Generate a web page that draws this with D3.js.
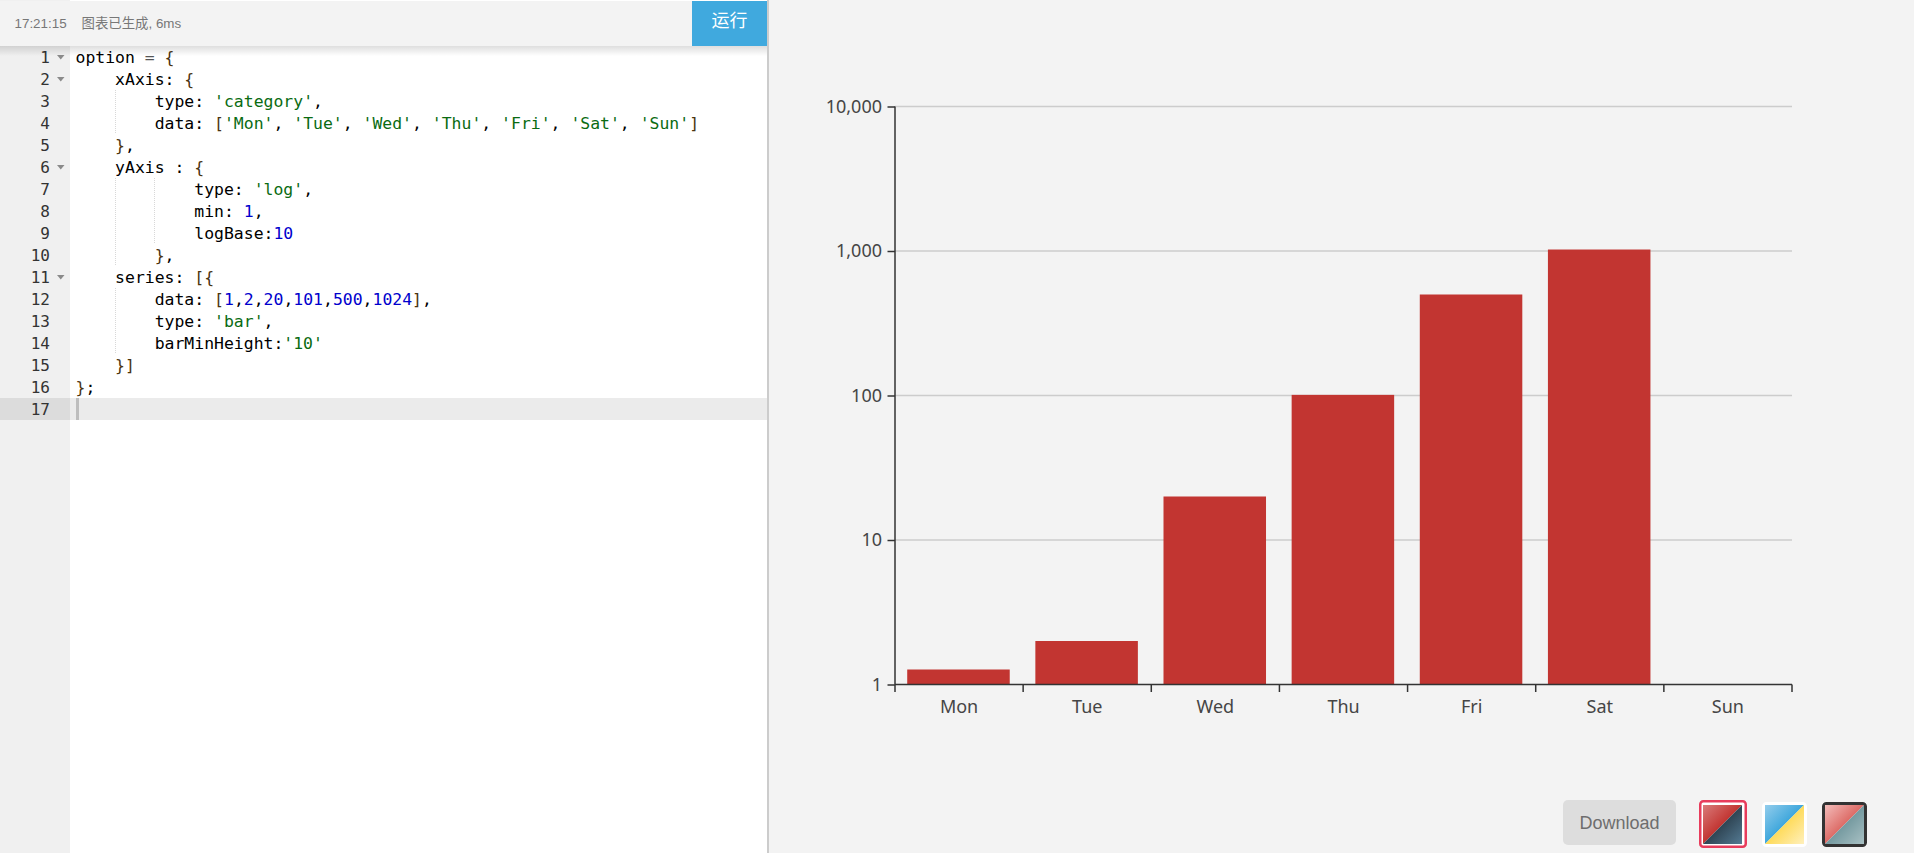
<!DOCTYPE html>
<html>
<head>
<meta charset="utf-8">
<script src="https://cdn.jsdelivr.net/npm/d3@7/dist/d3.min.js"></script>
<style>
html,body{margin:0;padding:0;background:#f3f3f3;overflow:hidden}
svg{display:block}
</style>
</head>
<body>
<svg id="page" width="1914" height="853"></svg>
<script>
const categories = ['Mon','Tue','Wed','Thu','Fri','Sat','Sun'];
const seriesValues = [1,2,20,101,500,1024,null];
const yTickValues = [1,10,100,1000,10000];
const statusTime = '17:21:15';
const statusText = '图表已生成, 6ms';
const runLabel = '运行';
const downloadLabel = 'Download';
const foldLines = [1,2,6,11];
const guideA = [3,4,7,8,9,10,12,13,14];
const guideB = [7,8,9];
const codeLines = [
 [['option ','k'],['= ','o'],['{','b']],
 [['    xAxis: ','k'],['{','b']],
 [['        type: ','k'],["'category'",'s'],[',','k']],
 [['        data: ','k'],['[','b'],["'Mon'",'s'],[', ','k'],["'Tue'",'s'],[', ','k'],["'Wed'",'s'],[', ','k'],["'Thu'",'s'],[', ','k'],["'Fri'",'s'],[', ','k'],["'Sat'",'s'],[', ','k'],["'Sun'",'s'],[']','b']],
 [['    ','k'],['}','b'],[',','k']],
 [['    yAxis : ','k'],['{','b']],
 [['            type: ','k'],["'log'",'s'],[',','k']],
 [['            min: ','k'],['1','n'],[',','k']],
 [['            logBase:','k'],['10','n']],
 [['        ','k'],['}','b'],[',','k']],
 [['    series: ','k'],['[{','b']],
 [['        data: ','k'],['[','b'],['1','n'],[',','k'],['2','n'],[',','k'],['20','n'],[',','k'],['101','n'],[',','k'],['500','n'],[',','k'],['1024','n'],[']','b'],[',','k']],
 [['        type: ','k'],["'bar'",'s'],[',','k']],
 [['        barMinHeight:','k'],["'10'",'s']],
 [['    ','k'],['}]','b']],
 [['}','b'],[';','k']],
 []
];
const tokenColor = {k:'#000',o:'#555',b:'#4a3410',s:'#0a6b12',n:'#0000cd'};

const svg = d3.select('#page');
const defs = svg.append('defs');
function grad(id,c0,c1,x1,y1,x2,y2){
  const g = defs.append('linearGradient').attr('id',id)
    .attr('x1',x1).attr('y1',y1).attr('x2',x2).attr('y2',y2);
  g.append('stop').attr('offset','0').attr('stop-color',c0);
  g.append('stop').attr('offset','1').attr('stop-color',c1);
}
grad('shadow','rgba(0,0,0,0.13)','rgba(0,0,0,0)',0,0,0,1);

/* ---------- left editor panel ---------- */
const LH = 22, top0 = 46;
const lineY = i => top0 + i*LH;
svg.append('rect').attr('x',0).attr('y',0).attr('width',767).attr('height',853).attr('fill','#fff');
svg.append('rect').attr('x',0).attr('y',0).attr('width',70).attr('height',853).attr('fill','#f0f0f0');
svg.append('rect').attr('x',767).attr('y',0).attr('width',2).attr('height',853).attr('fill','#cccccc');
svg.append('rect').attr('x',70).attr('y',lineY(16)).attr('width',697).attr('height',LH).attr('fill','#ebebeb');
svg.append('rect').attr('x',0).attr('y',lineY(16)).attr('width',70).attr('height',LH).attr('fill','#dcdcdc');
svg.append('rect').attr('x',76).attr('y',lineY(16)).attr('width',3).attr('height',LH).attr('fill','#bdbdbd');

const guides = svg.append('g').attr('stroke','#d8d8d8').attr('stroke-width',1).attr('stroke-dasharray','1 1');
guideA.forEach(n=>guides.append('line').attr('x1',115.5).attr('x2',115.5).attr('y1',lineY(n-1)).attr('y2',lineY(n)));
guideB.forEach(n=>guides.append('line').attr('x1',154.5).attr('x2',154.5).attr('y1',lineY(n-1)).attr('y2',lineY(n)));

const mono = '"DejaVu Sans Mono", monospace';
const nums = svg.append('g').attr('font-family',mono).attr('font-size',16).attr('fill','#333').attr('text-anchor','end');
codeLines.forEach((_,i)=>nums.append('text').attr('x',50).attr('y',lineY(i)+LH/2+6).text(i+1));
foldLines.forEach(n=>{
  const y = lineY(n-1)+LH/2-2;
  svg.append('path').attr('d',`M57 ${y}h7.5l-3.75 4.5z`).attr('fill','#8a8a8a');
});
const code = svg.append('g').attr('font-family',mono).attr('font-size',16.45);
codeLines.forEach((toks,i)=>{
  const t = code.append('text').attr('x',75.5).attr('y',lineY(i)+LH/2+6).attr('xml:space','preserve').style('white-space','pre');
  toks.forEach(([s,c])=>t.append('tspan').attr('fill',tokenColor[c]).text(s));
});

/* ---------- toolbar ---------- */
svg.append('rect').attr('x',0).attr('y',46).attr('width',767).attr('height',10).attr('fill','url(#shadow)');
svg.append('rect').attr('x',0).attr('y',1).attr('width',767).attr('height',45).attr('fill','#f3f3f3');
svg.append('rect').attr('x',692).attr('y',1).attr('width',75).attr('height',45).attr('fill','#40a9de');
svg.append('text').attr('x',729.5).attr('y',27).attr('text-anchor','middle')
  .attr('font-family','"Noto Sans CJK SC"').attr('font-size',18).attr('fill','#fff').text(runLabel);
svg.append('text').attr('x',14.5).attr('y',28).attr('font-family','"Liberation Sans", Arial')
  .attr('font-size',13.4).attr('fill','#777').text(statusTime);
svg.append('text').attr('x',81.5).attr('y',28).attr('font-family','"Liberation Sans","Noto Sans CJK SC"')
  .attr('font-size',13.4).attr('fill','#777').text(statusText);

/* ---------- chart ---------- */
const plot = {left:895,right:1792,top:106.5,bottom:684.5};
const barMinHeight = 15;
const barNudge = -0.6;
const x = d3.scaleBand().domain(categories).range([plot.left,plot.right]).paddingInner(0.2).paddingOuter(0.1);
const y = d3.scaleLog().base(10).domain([1,10000]).range([plot.bottom,plot.top]);
const chartFont = '"Noto Sans", sans-serif';
const axisText = '#454545';

svg.append('g').selectAll('line').data(yTickValues.slice(1)).join('line')
  .attr('x1',plot.left).attr('x2',plot.right)
  .attr('y1',d=>y(d)).attr('y2',d=>y(d))
  .attr('stroke','#ccc').attr('stroke-width',1.5);

svg.append('g').selectAll('rect').data(categories.map((c,i)=>({c,v:seriesValues[i]})).filter(d=>d.v!=null)).join('rect')
  .attr('x',d=>x(d.c)+barNudge).attr('width',x.bandwidth())
  .attr('y',d=>Math.min(y(d.v),plot.bottom-barMinHeight))
  .attr('height',d=>Math.max(plot.bottom-y(d.v),barMinHeight))
  .attr('fill','#c23531');

const yAxis = d3.axisLeft(y).tickValues(yTickValues).tickFormat(d3.format(',')).tickSize(7.5).tickPadding(5.5);
const gy = svg.append('g').attr('transform',`translate(${plot.left},0)`).call(yAxis);
const xAxis = d3.axisBottom(x).tickSize(0).tickPadding(15.5);
const gx = svg.append('g').attr('transform',`translate(0,${plot.bottom})`).call(xAxis);
const xTicks = d3.range(categories.length+1).map(i=>plot.left+x.step()*i);
gx.selectAll('line.bt').data(xTicks).join('line').attr('class','bt')
  .attr('x1',d=>d).attr('x2',d=>d).attr('y1',0).attr('y2',7.5);
[gy,gx].forEach(g=>{
  g.attr('font-family',chartFont).attr('font-size',18);
  g.selectAll('text').attr('fill',axisText);
  g.selectAll('line').attr('stroke','#333').attr('stroke-width',1.5);
  g.selectAll('path.domain').attr('stroke','#333').attr('stroke-width',1.5).attr('d',null);
});
gy.append('line').attr('x1',0).attr('x2',0).attr('y1',plot.top).attr('y2',plot.bottom).attr('stroke','#333').attr('stroke-width',1.5);
gx.append('line').attr('x1',plot.left).attr('x2',plot.right).attr('y1',0).attr('y2',0).attr('stroke','#333').attr('stroke-width',1.5);

/* ---------- download + theme swatches ---------- */
svg.append('rect').attr('x',1563).attr('y',800).attr('width',113).attr('height',45).attr('rx',5).attr('fill','#dddddd');
svg.append('text').attr('x',1619.5).attr('y',828.5).attr('text-anchor','middle')
  .attr('font-family','"Liberation Sans", Arial').attr('font-size',18).attr('fill','#6e6e6e').text(downloadLabel);

grad('a1','#d97a7a','#c23531',0,0,0.5,0.5);
grad('a2','#2f4554','#547a93',0.5,0.5,1,1);
grad('b1','#93cdec','#3fa7dc',0,0,0.5,0.5);
grad('b2','#fedb5b','#fff0bd',0.5,0.5,1,1);
grad('c1','#f3bcba','#dd6b66',0,0,0.5,0.5);
grad('c2','#759aa0','#a9c1c4',0.5,0.5,1,1);
function swatch(x0,g1,g2,border,bw,ox,oy,ow,oh){
  svg.append('rect').attr('x',ox+bw/2).attr('y',oy+bw/2).attr('width',ow-bw).attr('height',oh-bw)
    .attr('rx',3).attr('fill','#fff').attr('stroke',border).attr('stroke-width',bw);
  const s=39, y0=805;
  svg.append('path').attr('d',`M${x0} ${y0}h${s}L${x0} ${y0+s}z`).attr('fill',`url(#${g1})`);
  svg.append('path').attr('d',`M${x0+s} ${y0}v${s}h${-s}z`).attr('fill',`url(#${g2})`);
}
swatch(1703,'a1','a2','#e83c5c',2.5,1699,800,48,48);
swatch(1765,'b1','b2','#ffffff',3,1762,802,45,45);
swatch(1825,'c1','c2','#333333',3,1822,802,45,45);
</script>
</body>
</html>
